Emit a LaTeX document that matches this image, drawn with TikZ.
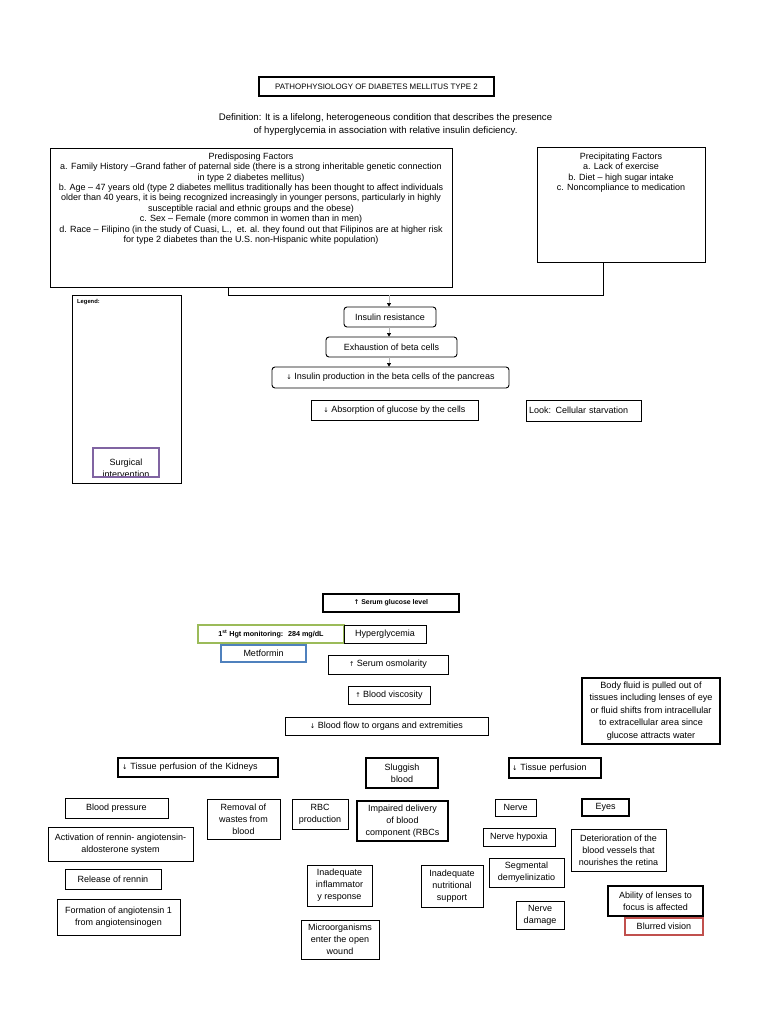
\documentclass[tikz,border=0pt]{standalone}
\usepackage{fontspec}
\setmainfont{Liberation Sans}
\newfontfamily\arr{DejaVu Sans}
\usetikzlibrary{arrows.meta}
\definecolor{purp}{RGB}{128,100,162}
\definecolor{grn}{RGB}{155,187,89}
\definecolor{blu}{RGB}{79,129,189}
\definecolor{redb}{RGB}{192,80,77}
\newcommand{\upar}{{\arr\fontsize{6.5}{7}\selectfont ↑}}
\newcommand{\dnar}{{\arr\fontsize{6.5}{7}\selectfont ↓}}
\begin{document}
\begin{tikzpicture}[x=1pt,y=-1pt,
  txt/.style={font=\fontsize{9}{12}\selectfont},
  box/.style={draw, line width=0.9pt, inner sep=1pt, align=center, txt},
  tbox/.style={box, line width=1.6pt},
  rbox/.style={box, rounded corners=3pt},
  small/.style={font=\fontsize{6.9}{8}\selectfont\bfseries},
  arrowline/.style={draw=gray!60, line width=0.5pt, -{Triangle[width=4pt,length=3.5pt,black]}}
]
\useasboundingbox[fill=white] (0,0) rectangle (768,1024);

% ---------- top ----------
\node[tbox, minimum width=235pt, minimum height=19pt, font=\fontsize{7.9}{9}\selectfont] (title) at (376.5,86.5) {PATHOPHYSIOLOGY OF DIABETES MELLITUS TYPE 2};
\node[align=center, inner sep=0, font=\fontsize{9.6}{13}\selectfont] (def) at (385.5,125) {Definition: It is a lifelong, heterogeneous condition that describes the presence\\of hyperglycemia in association with relative insulin deficiency.};

\node[draw, line width=0.9pt, minimum width=402pt, minimum height=139pt, inner sep=0] (pre) at (251,217.5) {};
\node[anchor=north, align=center, inner sep=0, font=\fontsize{9}{10.4}\selectfont] (pretext) at (251,152.5) {Predisposing Factors\\
a. Family History --Grand father of paternal side (there is a strong inheritable genetic connection\\
in type 2 diabetes mellitus)\\
b. Age -- 47 years old (type 2 diabetes mellitus traditionally has been thought to affect individuals\\
older than 40 years, it is being recognized increasingly in younger persons, particularly in highly\\
susceptible racial and ethnic groups and the obese)\\
c. Sex -- Female (more common in women than in men)\\
d. Race -- Filipino (in the study of Cuasi, L., \ et. al. they found out that Filipinos are at higher risk\\
for type 2 diabetes than the U.S. non-Hispanic white population)};

\node[draw, line width=0.9pt, minimum width=168pt, minimum height=115pt, inner sep=0] (prec) at (621,204.5) {};
\node[anchor=north, align=center, inner sep=0, font=\fontsize{9}{10.4}\selectfont] (prectext) at (621,152.5) {Precipitating Factors\\
a. Lack of exercise\\
b. Diet -- high sugar intake\\
c. Noncompliance to medication};

\coordinate (c1) at (228,295);
\coordinate (c2) at (603,295);
\coordinate (c3) at (389,295);
\draw[line width=0.9pt] (pre.south -| c1) -- (c1) -- (c2) -- (prec.south -| c2);

% legend
\node[draw, line width=0.7pt, minimum width=109pt, minimum height=188pt, inner sep=0] (leg) at (126.5,389) {};
\node[anchor=north west, inner sep=0, font=\fontsize{5.8}{6}\selectfont\bfseries] (legt) at (77,299.5) {Legend:};
\begin{scope}
\clip (93,448) rectangle (159,476.5);
\node[align=center, inner sep=0, txt] (surgt) at (126,468.5) {Surgical\\intervention};
\end{scope}
\node[draw=purp, line width=1.2pt, minimum width=66pt, minimum height=29pt, inner sep=0] (surg) at (126,462.5) {};

% main chain
\node[rbox, minimum width=92pt, minimum height=20pt] (ir) at (390,317) {Insulin resistance};
\node[rbox, minimum width=131pt, minimum height=20pt] (ex) at (391.5,347) {Exhaustion of beta cells};
\node[rbox, minimum width=237pt, minimum height=21pt] (ip) at (390.5,377.5) {\dnar\ Insulin production in the beta cells of the pancreas};
\node[box, minimum width=167pt, minimum height=20pt] (abs) at (394.5,410) {\dnar\ Absorption of glucose by the cells};
\node[box, minimum width=115pt, minimum height=21pt, text width=109pt, align=left, inner xsep=3pt] (look) at (583.5,410.5) {Look: Cellular starvation};

\draw[arrowline] (c3) -- (ir.north -| c3);
\draw[arrowline] (ir.south -| c3) -- (ex.north -| c3);
\draw[arrowline] (ex.south -| c3) -- (ip.north -| c3);

% ---------- lower ----------
\node[tbox, minimum width=136pt, minimum height=18pt, small] (sg) at (391,603) {\upar\ Serum glucose level};
\node[draw=grn, line width=1.4pt, minimum width=146pt, minimum height=18pt, inner sep=0, small, font=\fontsize{7.2}{8}\selectfont\bfseries] (hgt) at (271,634) {1\textsuperscript{st} Hgt monitoring: \ 284 mg/dL};
\node[box, minimum width=82pt, minimum height=18pt] (hyp) at (385,634) {Hyperglycemia};
\node[draw=blu, line width=1.2pt, minimum width=85pt, minimum height=17pt, inner sep=0, txt] (met) at (263.5,653.5) {Metformin};
\node[box, minimum width=120pt, minimum height=19pt] (osm) at (388,664.5) {\upar\ Serum osmolarity};
\node[box, minimum width=82pt, minimum height=18pt] (vis) at (389,695.5) {\upar\ Blood viscosity};
\node[box, minimum width=203pt, minimum height=18pt] (flow) at (386.5,726) {\dnar\ Blood flow to organs and extremities};
\node[tbox, minimum width=138pt, minimum height=66pt, inner sep=0, font=\fontsize{9.1}{12.4}\selectfont] (fluid) at (651,711) {Body fluid is pulled out of\\tissues including lenses of eye\\or fluid shifts from intracellular\\to extracellular area since\\glucose attracts water};

\node[tbox, minimum width=160pt, minimum height=19pt, text width=152pt, align=left, inner xsep=4pt] (kid) at (198,767.5) {\dnar\ Tissue perfusion of the Kidneys};
\node[box, line width=1.2pt, minimum width=72pt, minimum height=30pt] (slug) at (402,773) {Sluggish\\blood};
\node[tbox, minimum width=92pt, minimum height=20pt, text width=86pt, align=left, inner xsep=3pt] (tp) at (555,768) {\dnar\ Tissue perfusion};

\node[box, minimum width=103pt, minimum height=20pt] (bp) at (116.5,808) {Blood pressure};
\node[box, minimum width=145pt, minimum height=34pt] (act) at (120.5,844) {Activation of rennin- angiotensin-\\aldosterone system};
\node[box, minimum width=96pt, minimum height=20pt] (rel) at (113,879) {Release of rennin};
\node[box, minimum width=123pt, minimum height=36pt] (form) at (118.5,917) {Formation of angiotensin 1\\from angiotensinogen};

\node[box, minimum width=73pt, minimum height=40pt] (rem) at (243.5,819) {Removal of\\wastes from\\blood};
\node[box, minimum width=56pt, minimum height=30pt] (rbc) at (320,814) {RBC\\production};
\node[box, line width=1.2pt, minimum width=91pt, minimum height=40pt] (imp) at (402.5,821) {Impaired delivery\\of blood\\component (RBCs};
\node[box, minimum width=65pt, minimum height=41pt] (infl) at (339.5,885.5) {Inadequate\\inflammator\\y response};
\node[box, minimum width=78pt, minimum height=39pt] (micro) at (340,939.5) {Microorganisms\\enter the open\\wound};
\node[box, minimum width=62pt, minimum height=42pt] (nut) at (452,886) {Inadequate\\nutritional\\support};

\node[box, minimum width=41pt, minimum height=17pt] (nerve) at (515.5,807.5) {Nerve};
\node[tbox, minimum width=47pt, minimum height=17pt] (eyes) at (605.5,807.5) {Eyes};
\node[box, minimum width=72pt, minimum height=18pt] (hypo) at (519,837) {Nerve hypoxia};
\node[box, minimum width=95pt, minimum height=42pt] (det) at (618.5,850) {Deterioration of the\\blood vessels that\\nourishes the retina};
\node[box, minimum width=75pt, minimum height=29pt] (seg) at (526.5,872.5) {Segmental\\demyelinizatio};
\node[box, minimum width=48pt, minimum height=28pt] (dmg) at (540,915) {Nerve\\damage};
\node[tbox, minimum width=95pt, minimum height=30pt] (abil) at (655.5,901) {Ability of lenses to\\focus is affected};
\node[draw=redb, line width=1.2pt, minimum width=78pt, minimum height=17pt, inner sep=0, txt] (blur) at (664,926.5) {Blurred vision};
\end{tikzpicture}
\end{document}
